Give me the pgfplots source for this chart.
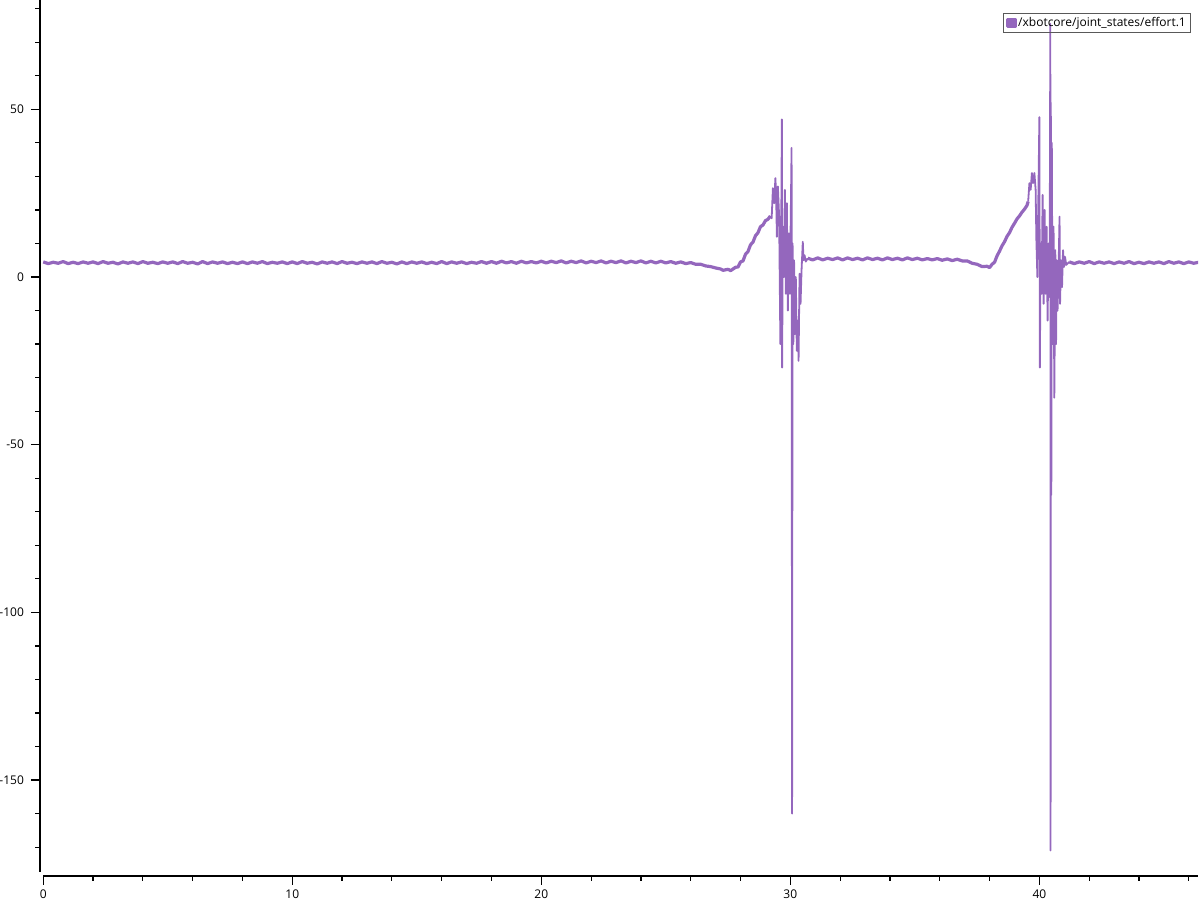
\documentclass[border=0pt]{standalone}
\usepackage{fontspec}
\setmainfont{Open Sans}
\usepackage{pgfplots}
\pgfplotsset{compat=1.18}
\definecolor{ljpurple}{HTML}{9467BD}
\begin{document}
\begin{tikzpicture}
\useasboundingbox (-20pt,-12pt) rectangle (580pt,438pt);
\begin{axis}[
  at={(0pt,0pt)}, anchor=south west,
  scale only axis, width=579pt, height=438pt,
  xmin=-0.13, xmax=46.37, ymin=-178.6, ymax=82.6,
  axis x line=bottom, axis y line=left,
  axis line style={-, line width=0.7pt, black},
  x axis line style={shorten <=1.6pt},
  y axis line style={shorten <=2pt},
  xtick={0,10,20,30,40}, xticklabels={0,10,20,30,40},
  minor xtick={2,4,...,46},
  ytick={-150,-100,-50,0,50}, yticklabels={-150,-100,-50,0,50},
  minor ytick={-170,-160,...,80},
  tick align=outside,
  major tick length=4.5pt, minor tick length=2.4pt,
  every tick/.style={black, line width=0.6pt},
  ticklabel style={font=\fontsize{6}{7}\selectfont, text=black},
  xticklabel style={yshift=1.2pt},
  legend style={at={(0.994,0.985)}, anchor=north east, draw=black!65, line width=0.6pt,
    fill=none, inner xsep=1.5pt, inner ysep=0.8pt,
    font=\fontsize{6}{7}\selectfont,
    nodes={inner sep=0.8pt}},
  legend cell align=left,
  legend image code/.code={\fill[ljpurple] (0pt,-1.8pt) rectangle (3.6pt,1.8pt);},
]
% quiet parts (noise band)
\addplot[ljpurple, line width=1.6pt, line join=round] coordinates {
(0.0,4.5)(0.2,4.0)(0.4,4.4)(0.6,4.1)(0.8,4.6)(1.0,4.0)(1.2,4.4)(1.4,4.0)(1.6,4.5)(1.8,4.1)
(2.0,4.5)(2.2,4.0)(2.4,4.6)(2.6,4.1)(2.8,4.4)(3.0,3.9)(3.2,4.5)(3.4,4.1)(3.6,4.5)(3.8,4.0)
(4.0,4.6)(4.2,4.1)(4.4,4.4)(4.6,4.0)(4.8,4.5)(5.0,4.1)(5.2,4.5)(5.4,4.0)(5.6,4.6)(5.8,4.1)
(6.0,4.4)(6.2,3.9)(6.4,4.6)(6.6,4.0)(6.8,4.5)(7.0,4.1)(7.2,4.5)(7.4,4.0)(7.6,4.4)(7.8,4.0)
(8.0,4.5)(8.2,4.0)(8.4,4.5)(8.6,4.1)(8.8,4.6)(9.0,4.0)(9.2,4.4)(9.4,4.1)(9.6,4.5)(9.8,4.0)
(10.0,4.5)(10.2,4.0)(10.4,4.6)(10.6,4.1)(10.8,4.4)(11.0,3.9)(11.2,4.5)(11.4,4.1)(11.6,4.5)(11.8,4.0)
(12.0,4.6)(12.2,4.1)(12.4,4.4)(12.6,4.0)(12.8,4.5)(13.0,4.1)(13.2,4.5)(13.4,4.0)(13.6,4.6)(13.8,4.1)
(14.0,4.4)(14.2,3.9)(14.4,4.5)(14.6,4.0)(14.8,4.5)(15.0,4.1)(15.2,4.5)(15.4,4.0)(15.6,4.4)(15.8,4.0)
(16.0,4.6)(16.2,4.0)(16.4,4.5)(16.6,4.1)(16.8,4.5)(17.0,4.0)(17.2,4.4)(17.4,4.1)(17.6,4.6)(17.8,4.1)
(18.0,4.6)(18.2,4.1)(18.4,4.7)(18.6,4.2)(18.8,4.6)(19.0,4.1)(19.2,4.7)(19.4,4.2)(19.6,4.6)(19.8,4.2)
(20.0,4.7)(20.2,4.2)(20.4,4.7)(20.6,4.3)(20.8,4.8)(21.0,4.2)(21.2,4.7)(21.4,4.3)(21.6,4.8)(21.8,4.2)
(22.0,4.7)(22.2,4.3)(22.4,4.8)(22.6,4.2)(22.8,4.7)(23.0,4.3)(23.2,4.8)(23.4,4.2)(23.6,4.7)(23.8,4.3)
(24.0,4.8)(24.2,4.2)(24.4,4.7)(24.6,4.2)(24.8,4.7)(25.0,4.2)(25.2,4.6)(25.4,4.1)(25.6,4.5)(25.8,4.0)
(26.0,4.3)(26.2,3.8)(26.4,3.8)(26.6,3.3)(26.8,3.1)(27.0,2.7)(27.2,2.4)(27.3,2.0)(27.5,2.3)(27.6,1.9)
(27.8,2.9)(27.9,3.0)(28.0,4.5)(28.1,4.8)(28.2,6.8)(28.3,7.6)(28.4,9.6)(28.5,10.4)(28.6,12.3)(28.7,13.2)
(28.8,15.0)(28.9,15.5)(29.0,16.8)(29.1,17.2)(29.2,18.2)
};
\addlegendentry{/xbotcore/joint\_states/effort.1}
\addplot[ljpurple, line width=1.6pt, line join=round, forget plot] coordinates {
(30.7,5.6)(30.9,5.1)(31.1,5.7)(31.3,5.1)(31.5,5.6)(31.7,5.2)(31.9,5.7)(32.1,5.1)(32.3,5.7)(32.5,5.2)
(32.7,5.6)(32.9,5.1)(33.1,5.7)(33.3,5.2)(33.5,5.6)(33.7,5.1)(33.9,5.7)(34.1,5.2)(34.3,5.6)(34.5,5.1)
(34.7,5.7)(34.9,5.2)(35.1,5.6)(35.3,5.1)(35.5,5.5)(35.7,5.1)(35.9,5.5)(36.1,5.0)(36.3,5.4)(36.5,4.9)
(36.7,5.3)(36.9,4.8)(37.1,4.8)(37.3,4.1)(37.5,3.8)(37.7,3.1)(37.9,3.2)(38.0,2.8)(38.1,3.8)(38.2,4.4)
(38.3,6.3)(38.4,7.7)(38.5,9.3)(38.6,10.5)(38.7,12.1)(38.8,13.2)(38.9,14.8)(39.0,16.0)(39.1,17.3)(39.2,18.2)
(39.3,19.3)(39.4,20.2)(39.5,21.3)(39.55,22.5)
};
\addplot[ljpurple, line width=1.6pt, line join=round, forget plot] coordinates {
(41.2,4.5)(41.4,4.0)(41.6,4.5)(41.8,4.1)(42.0,4.6)(42.2,4.0)(42.4,4.5)(42.6,4.1)(42.8,4.5)(43.0,4.0)
(43.2,4.5)(43.4,4.1)(43.6,4.6)(43.8,4.0)(44.0,4.4)(44.2,4.0)(44.4,4.5)(44.6,4.1)(44.8,4.5)(45.0,4.0)
(45.2,4.6)(45.4,4.1)(45.6,4.5)(45.8,4.0)(46.0,4.5)(46.2,4.1)(46.4,4.4)
};
% bursts
\addplot[ljpurple, line width=0.9pt, line join=round, forget plot] coordinates {
(29.2,18.2)(29.25,17.5)(29.3,26.5)(29.35,22)(29.4,29.5)(29.43,24)(29.46,12)(29.5,27)
(29.55,18)(29.6,-20)(29.64,22)(29.66,47)(29.67,-27)(29.7,15)(29.74,0)(29.78,26)(29.82,-5)(29.86,22)
(29.9,-10)(29.94,13)(29.98,-5)(30.02,20)(30.05,38.5)(30.07,-160)(30.09,10)(30.12,-20)(30.15,5)(30.18,-17)
(30.22,0)(30.26,-22)(30.3,-13)(30.33,-25)(30.37,1)(30.41,-8)(30.45,2)(30.5,10.5)(30.53,5)(30.57,6.5)(30.62,4.6)(30.7,5.6)
};
\addplot[ljpurple, line width=0.9pt, line join=round, forget plot] coordinates {
(39.55,22.5)(39.6,28)(39.65,26)(39.7,31)(39.75,28)(39.8,31)(39.85,26)
(39.88,11)(39.92,0)(39.96,24)(40.0,47.7)(40.02,-27)(40.05,10)(40.09,-5)(40.13,24.5)(40.17,-8)(40.21,20)
(40.25,-5)(40.29,15)(40.33,-13)(40.37,10)(40.41,-6)(40.44,75.5)(40.45,-171)(40.46,52)(40.48,-65)(40.5,40)
(40.53,-20)(40.57,15)(40.6,-36)(40.64,8)(40.67,-20)(40.7,5)(40.73,-10)(40.77,2)(40.81,18)(40.83,-8)
(40.87,5)(40.91,-3)(40.95,8)(40.99,3)(41.03,6)(41.08,3.6)(41.2,4.5)
};
\end{axis}
\end{tikzpicture}
\end{document}
